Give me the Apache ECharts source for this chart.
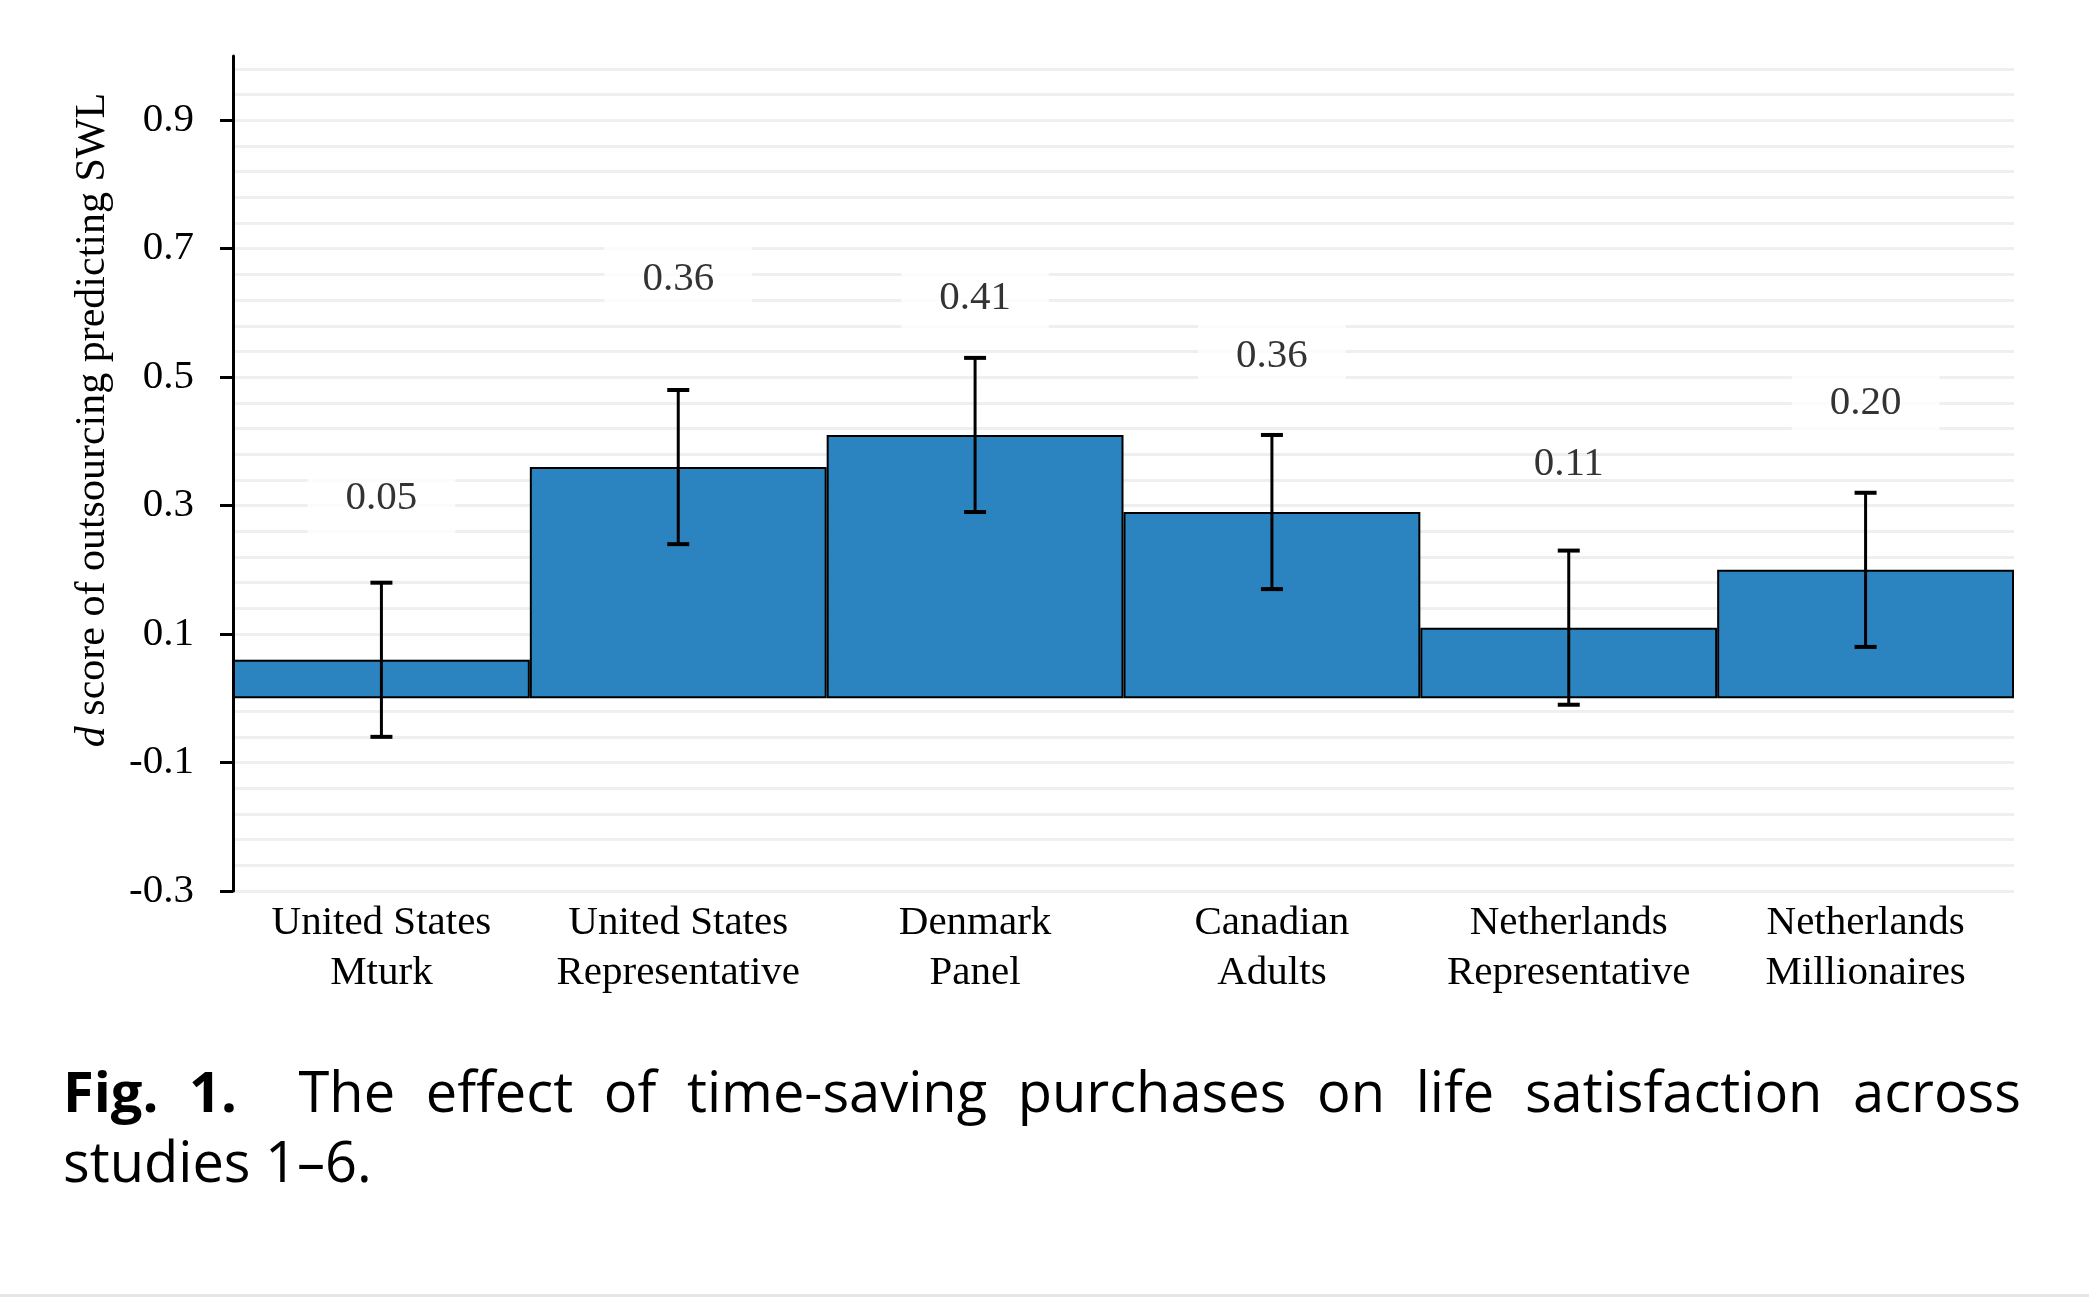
<!DOCTYPE html>
<html>
<head>
<meta charset="utf-8">
<script src="https://cdn.jsdelivr.net/npm/echarts@6/dist/echarts.min.js"></script>
<style>
  html, body { margin: 0; padding: 0; background: #fff; }
  #wrap { position: relative; width: 2089px; height: 1300px; overflow: hidden; }
  #chart { position: absolute; left: 0; top: 0; width: 2089px; height: 1300px; }
  .caption {
    position: absolute;
    left: 63px;
    width: 1958px;
    font-family: "Open Sans", sans-serif;
    font-size: 56px;
    line-height: 70px;
    color: #000;
  }
  .line1 { top: 1055px; text-align: justify; text-align-last: justify; }
  .line2 { top: 1125px; text-align: left; }
  .rule { position: absolute; left: 0; top: 1294px; width: 2089px; height: 3px; background: #e6e6e6; }
</style>
</head>
<body>
<div id="wrap">
  <div id="chart"></div>
  <div class="caption line1"><b>Fig. 1.</b>&nbsp; The effect of time-saving purchases on life satisfaction across</div>
  <div class="caption line2">studies 1–6.</div>
  <div class="rule"></div>
</div>
<script>
const categories = [
  "United States\nMturk",
  "United States\nRepresentative",
  "Denmark\nPanel",
  "Canadian\nAdults",
  "Netherlands\nRepresentative",
  "Netherlands\nMillionaires",
];
const barValues = [0.06, 0.36, 0.41, 0.29, 0.11, 0.20];
const ciLow = [-0.06, 0.24, 0.29, 0.17, -0.01, 0.08];
const ciHigh = [0.18, 0.48, 0.53, 0.41, 0.23, 0.32];
const labelText = ["0.05", "0.36", "0.41", "0.36", "0.11", "0.20"];
const labelY = [0.311, 0.652, 0.623, 0.532, 0.364, 0.459];
const labelBoxed = [true, true, true, true, false, true];
const yTicks = [-0.3, -0.1, 0.1, 0.3, 0.5, 0.7, 0.9];
const yMin = -0.3;
const yMax = 1.0;
const gridStep = 0.04;

const serif = "'Liberation Serif', 'Times New Roman', serif";

// light grid lines every 0.04 starting from the axis minimum
const gridValues = [];
for (let v = yMin; v < yMax - 1e-9; v += gridStep) {
  gridValues.push(Number(v.toFixed(2)));
}

const chart = echarts.init(document.getElementById("chart"));

chart.setOption({
  animation: false,
  backgroundColor: "#fff",
  grid: { left: 233, right: 75, top: 56, bottom: 409, containLabel: false },
  xAxis: {
    type: "category",
    data: categories,
    axisLine: { show: false },
    axisTick: { show: false },
    splitLine: { show: false },
    axisLabel: {
      margin: 7,
      interval: 0,
      fontFamily: serif,
      fontSize: 41,
      lineHeight: 50,
      color: "#000",
    },
  },
  yAxis: [
    {
      type: "value",
      min: yMin,
      max: yMax,
      position: "left",
      axisLine: { show: true, lineStyle: { color: "#000", width: 3 } },
      axisTick: {
        show: true,
        length: 13,
        customValues: yTicks,
        lineStyle: { color: "#000", width: 3 },
      },
      axisLabel: {
        customValues: yTicks,
        margin: 39,
        fontFamily: serif,
        fontSize: 41,
        color: "#000",
        formatter: (v) => v.toFixed(1),
      },
      splitLine: { show: false },
    },
    {
      type: "value",
      min: yMin,
      max: yMax,
      position: "left",
      axisLine: { show: false },
      axisTick: { show: false, customValues: gridValues },
      axisLabel: { show: false },
      splitLine: { show: true, lineStyle: { color: "#efefef", width: 3 } },
    },
  ],
  graphic: [
    {
      type: "text",
      x: 93,
      y: 420,
      rotation: Math.PI / 2,
      style: {
        text: "{i|d} score of outsourcing predicting SWL",
        fontFamily: serif,
        fontSize: 42,
        fill: "#000",
        align: "center",
        verticalAlign: "middle",
        rich: {
          i: { fontStyle: "italic", fontFamily: serif, fontSize: 42, fill: "#000" },
        },
      },
    },
  ],
  series: [
    {
      type: "bar",
      yAxisIndex: 0,
      data: barValues,
      barCategoryGap: "0%",
      itemStyle: { color: "#2b84bf", borderColor: "#000", borderWidth: 2 },
      z: 2,
      silent: true,
    },
    {
      type: "custom",
      yAxisIndex: 0,
      data: ciLow.map((lo, i) => [i, lo, ciHigh[i]]),
      encode: { x: 0, y: [1, 2] },
      z: 4,
      silent: true,
      renderItem: (params, api) => {
        const x = api.value(0);
        const lo = api.coord([x, api.value(1)]);
        const hi = api.coord([x, api.value(2)]);
        const w = 11;
        const line = { stroke: "#000", lineWidth: 3 };
        const cap = { stroke: "#000", lineWidth: 4 };
        return {
          type: "group",
          children: [
            { type: "line", shape: { x1: hi[0], y1: hi[1], x2: lo[0], y2: lo[1] }, style: line },
            { type: "line", shape: { x1: hi[0] - w, y1: hi[1], x2: hi[0] + w, y2: hi[1] }, style: cap },
            { type: "line", shape: { x1: lo[0] - w, y1: lo[1], x2: lo[0] + w, y2: lo[1] }, style: cap },
          ],
        };
      },
    },
    {
      type: "scatter",
      yAxisIndex: 0,
      symbol: "circle",
      symbolSize: 0,
      z: 5,
      silent: true,
      data: labelY.map((y, i) => ({
        value: [i, y],
        label: { backgroundColor: labelBoxed[i] ? "#fff" : "transparent" },
      })),
      label: {
        show: true,
        position: "inside",
        formatter: (p) => labelText[p.dataIndex],
        fontFamily: serif,
        fontSize: 41,
        color: "#000",
        backgroundColor: "#fff",
        padding: [20, 38],
      },
    },
  ],
});
</script>
</body>
</html>
